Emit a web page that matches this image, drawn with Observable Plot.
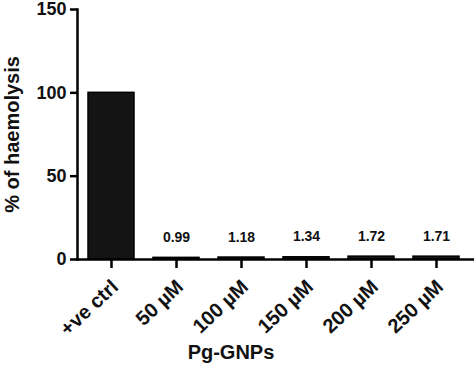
<!DOCTYPE html>
<html>
<head>
<meta charset="utf-8">
<script src="https://cdn.jsdelivr.net/npm/d3@7"></script>
<script src="https://cdn.jsdelivr.net/npm/@observablehq/plot@0.6"></script>
<style>
  html, body { margin: 0; padding: 0; background: #fff; }
  svg { font-family: "Liberation Sans", Arial, sans-serif; }
</style>
</head>
<body>
<div id="chart"></div>
<script>
const categories = ["+ve ctrl", "50 µM", "100 µM", "150 µM", "200 µM", "250 µM"];
const values = [100, 0.99, 1.18, 1.34, 1.72, 1.71];
const valueLabels = ["", "0.99", "1.18", "1.34", "1.72", "1.71"];
const yTicks = [0, 50, 100, 150];
const yTitle = "% of haemolysis";
const xTitle = "Pg-GNPs";

const data = categories.map((c, i) => ({cat: c, value: values[i], label: valueLabels[i]}));

const chart = Plot.plot({
  width: 474,
  height: 367,
  marginLeft: 77,
  marginRight: 0,
  marginTop: 9,
  marginBottom: 108,
  style: {fontFamily: "Liberation Sans, Arial, sans-serif", color: "#000", background: "#fff"},
  x: {domain: categories, paddingInner: 0.3, paddingOuter: 0.18, align: 0.43, axis: null},
  y: {domain: [0, 150], axis: null},
  marks: [
    Plot.barY(data, {x: "cat", y: "value", fill: "#141414", stroke: "#000", strokeWidth: 1.5}),
    Plot.text(data, {x: "cat", y: "value", text: "label", dy: -16, lineAnchor: "bottom", fontSize: 14, fontWeight: "bold", fill: "#111"}),
    Plot.axisY({ticks: yTicks, tickSize: 7, tickPadding: 4, strokeWidth: 2.5, fontSize: 18, fontWeight: "bold", label: null, fill: "#111"}),
    Plot.axisX({ticks: categories, tickSize: 9, strokeWidth: 2.5, tickFormat: () => "", label: null}),
    Plot.text(categories, {x: d => d, frameAnchor: "bottom", rotate: -43, textAnchor: "end", lineAnchor: "bottom", dx: 8, dy: 29, fontSize: 20, fontWeight: "bold", fill: "#111"}),
    Plot.ruleY([0], {strokeWidth: 2.5}),
    Plot.frame({anchor: "left", strokeWidth: 2.5}),
    Plot.text([yTitle], {frameAnchor: "left", textAnchor: "middle", rotate: -90, dx: -59, lineAnchor: "bottom", fontSize: 20, fontWeight: "bold", fill: "#111"}),
    Plot.text([xTitle], {frameAnchor: "bottom", textAnchor: "middle", dx: -45, dy: 99, lineAnchor: "bottom", fontSize: 20, fontWeight: "bold", fill: "#111"})
  ]
});
document.getElementById("chart").appendChild(chart);
</script>
</body>
</html>
